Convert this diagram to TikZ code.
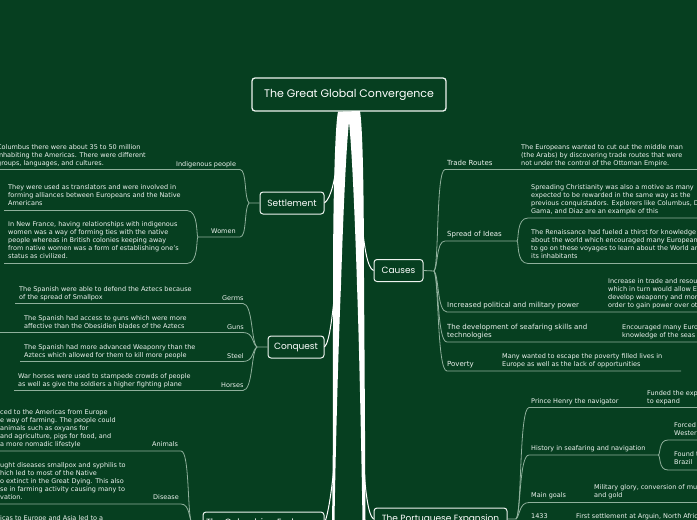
\documentclass[tikz,border=0pt]{standalone}
\usepackage{fontspec}
\setmainfont{DejaVu Sans}
\newfontfamily\handfont{Poppins}
\definecolor{board}{HTML}{063F20}
\definecolor{chalk}{HTML}{EDF3EF}
\definecolor{twig}{HTML}{8FB09C}
\tikzset{
  root/.style={draw=chalk,line width=1.3pt,rounded corners=3pt,text=white,font=\handfont\fontsize{11}{14}\selectfont,inner sep=0pt,minimum height=33pt},
  topic/.style={draw=chalk,line width=1pt,rounded corners=3pt,text=white,font=\handfont\fontsize{9}{11}\selectfont,inner sep=0pt,minimum height=22pt},
  leaf/.style={anchor=base west,align=left,inner sep=0pt,text=chalk,font=\fontsize{6.5}{8}\selectfont},
  bigleaf/.style={leaf,font=\fontsize{7}{8}\selectfont},
  twigline/.style={draw=twig,line width=0.8pt},
  bough/.style={draw=white,line width=1pt},
}
\begin{document}
\begin{tikzpicture}[x=1pt,y=-1pt]
        \useasboundingbox (0,0) rectangle (697,520);
        \fill[board] (0,0) rectangle (697,520);
        \clip (0,0) rectangle (697,520);

        % the two white trunks
        \node[root,minimum width=194pt] (great) at (349,94.5) {The Great Global Convergence};
        \fill[white] (great.south) ++(-11,0) .. controls (335,125) and (333,200) .. (333,285) .. controls (333,400) and (333,470) .. (332,520)
            -- (334.5,520) .. controls (336,430) and (339,330) .. (341,285) .. controls (343,220) and (346,150) .. (349,122)
            .. controls (352,150) and (355,220) .. (357,285) .. controls (359,340) and (361,430) .. (362.5,520)
            -- (365.5,520) .. controls (365,430) and (364.5,340) .. (364,285) .. controls (364,200) and (363,130) .. (360,111) -- cycle;

        \coordinate (trunkl1) at (337,160);
        \coordinate (trunkl2) at (336,280);
        \coordinate (trunkl3) at (334,465);
        \coordinate (trunkr1) at (361,215);
        \coordinate (trunkr2) at (363,455);

        \node[topic,minimum width=64pt] (settlement) at (292,203) {Settlement};
        \node[topic,minimum width=56pt] (conquest) at (296,347) {Conquest};
        \node[topic,minimum width=121pt] (columbian) at (263.5,523) {The Columbian Exchange};
        \node[topic,minimum width=49pt] (causes) at (398.5,270.5) {Causes};
        \node[topic,minimum width=133pt] (portuguese) at (440.5,519) {The Portuguese Expansion};

        \draw[bough] (settlement.east) .. controls (331,198) and (335,180) .. (trunkl1);
        \draw[bough] (conquest.east) .. controls (330,342) and (333,310) .. (trunkl2);
        \draw[bough] (columbian.east) .. controls (328,515) and (332,490) .. (trunkl3);
        \draw[bough] (causes.west) .. controls (367,268) and (364,245) .. (trunkr1);
        \draw[bough] (portuguese.west) .. controls (368,515) and (365,490) .. (trunkr2);

        % Settlement
        \node[leaf] (indigenous) at (176,166) {Indigenous people};
        \node[leaf] (indigenoustext) at (-3,165.5) {Columbus there were about 35 to 50 million\\inhabiting the Americas.  There were different\\groups, languages, and cultures.};
        \node[leaf] (women) at (211,233) {Women};
        \node[leaf] (womentext) at (8,205.5) {They were used as translators and were involved in\\forming alliances between Europeans and the Native\\Americans};
        \node[leaf] (francetext) at (8,258.5) {In New France, having relationships with indigenous\\women was a way of forming ties with the native\\people whereas in British colonies keeping away\\from native women was a form of establishing one's\\status as civilized.};
        \coordinate (settlejoin) at (249,203);
        \coordinate (indigenousend) at (0,169.5);
        \coordinate (womenend) at (198,237);
        \coordinate (womentextend) at (4,210.5);
        \coordinate (francetextend) at (4,263.5);
        \draw[twigline] (settlement.west) -- (settlejoin) .. controls (244,198) and (247,170) .. (240,169.5) -- (indigenousend);
        \draw[twigline] (settlejoin) .. controls (244,208) and (247,237) .. (240,237) -- (womenend);
        \draw[twigline] (womenend) .. controls (196,237) and (199,210.5) .. (187,210.5) -- (womentextend);
        \draw[twigline] (womenend) .. controls (196,237) and (199,263.5) .. (187,263.5) -- (francetextend);

        % Conquest
        \node[leaf] (germs) at (222,300) {Germs};
        \node[leaf] (germstext) at (19,299.5) {The Spanish were able to defend the Aztecs because\\of the spread of Smallpox};
        \node[leaf] (guns) at (227,329) {Guns};
        \node[leaf] (gunstext) at (24,328.5) {The Spanish had access to guns which were more\\affective than the Obesidien blades of the Aztecs};
        \node[leaf] (steel) at (227,358) {Steel};
        \node[leaf] (steeltext) at (24,357.5) {The Spanish had more advanced Weaponry than the\\Aztecs which allowed for them to kill more people};
        \node[leaf] (horses) at (221,387) {Horses};
        \node[leaf] (horsestext) at (18,386.5) {War horses were used to stampede crowds of people\\as well as give the soldiers a higher fighting plane};
        \coordinate (conquestjoin) at (257,347);
        \coordinate (germsend) at (15,303.5);
        \coordinate (gunsend) at (0,332.5);
        \coordinate (steelend) at (20,361.5);
        \coordinate (horsesend) at (14,390.5);
        \draw[twigline] (conquest.west) -- (conquestjoin) .. controls (251,342) and (253,304) .. (243,303.5) -- (germsend);
        \draw[twigline] (conquestjoin) .. controls (252,344) and (254,332.5) .. (243,332.5) -- (gunsend);
        \draw[twigline] (conquestjoin) .. controls (252,350) and (254,361.5) .. (243,361.5) -- (steelend);
        \draw[twigline] (conquestjoin) .. controls (251,352) and (253,390) .. (243,390.5) -- (horsesend);

        % The Columbian Exchange
        \node[leaf] (animals) at (152,446.5) {Animals};
        \node[leaf] (animalstext) at (0,446.5) {ced to the Americas from Europe\\e way of farming. The people could\\animals such as oxyans for\\and agriculture, pigs for food, and\\a more nomadic lifestyle};
        \node[leaf] (disease) at (153,499.5) {Disease};
        \node[leaf] (diseasetext) at (0,499.5) {ught diseases smallpox and syphilis to\\hich led to most of the Native\\o extinct in the Great Dying. This also\\se in farming activity causing many to\\vation.};
        \node[leaf] (exchangetext) at (0,520) {icas to Europe and Asia led to a};
        \coordinate (columbianjoin) at (192,523);
        \coordinate (animalsend) at (0,451);
        \coordinate (diseaseend) at (0,504);
        \draw[twigline] (columbian.west) -- (columbianjoin) .. controls (187,518) and (190,451) .. (181,451) -- (animalsend);
        \draw[twigline] (columbianjoin) .. controls (189,520) and (190,504) .. (181,504) -- (diseaseend);

        % Causes
        \node[bigleaf] (trade) at (447,165.5) {Trade Routes};
        \node[leaf] (tradetext) at (521,165.5) {The Europeans wanted to cut out the middle man\\(the Arabs) by discovering trade routes that were\\not under the control of the Ottoman Empire.};
        \node[bigleaf] (ideas) at (447,236.5) {Spread of Ideas};
        \node[leaf] (ideastext) at (531,213.5) {Spreading Christianity was also a motive as many\\expected to be rewarded in the same way as the\\previous conquistadors. Explorers like Columbus, Da\\Gama, and Diaz are an example of this};
        \node[leaf] (renaissancetext) at (531,258.5) {The Renaissance had fueled a thirst for knowledge\\about the world which encouraged many Europeans\\to go on these voyages to learn about the World and\\its inhabitants};
        \node[bigleaf] (power) at (447,307.5) {Increased political and military power};
        \node[leaf] (powertext) at (608,307.5) {Increase in trade and resources\\which in turn would allow Europeans to\\develop weaponry and more ships in\\order to gain power over others};
        \node[bigleaf] (seafaring) at (447,337.5) {The development of seafaring skills and\\technologies};
        \node[leaf] (seafaringtext) at (622,337.5) {Encouraged many Europeans\\knowledge of the seas};
        \node[bigleaf] (poverty) at (447,366.5) {Poverty};
        \node[leaf] (povertytext) at (502,366.5) {Many wanted to escape the poverty filled lives in\\Europe as well as the lack of opportunities};
        \coordinate (causesjoin) at (434,271);
        \coordinate (tradeend) at (697,169.5);
        \coordinate (ideasjoin) at (517,241);
        \coordinate (ideastextend) at (697,218);
        \coordinate (renaissanceend) at (697,263.5);
        \coordinate (powerend) at (697,312);
        \coordinate (seafaringend) at (697,342);
        \coordinate (povertyend) at (681,371);
        \draw[twigline] (causes.east) -- (causesjoin) .. controls (439,266) and (436,170) .. (445,169.5) -- (tradeend);
        \draw[twigline] (causesjoin) .. controls (438,268) and (436,241) .. (445,241) -- (ideasjoin);
        \draw[twigline] (causesjoin) .. controls (439,275) and (437,312) .. (447,312) -- (powerend);
        \draw[twigline] (causesjoin) .. controls (439,278) and (437,342) .. (447,342) -- (seafaringend);
        \draw[twigline] (causesjoin) .. controls (439,280) and (437,371) .. (447,371) -- (povertyend);
        \draw[twigline] (ideasjoin) .. controls (519,241) and (516,218) .. (528,218) -- (ideastextend);
        \draw[twigline] (ideasjoin) .. controls (519,241) and (516,263.5) .. (528,263.5) -- (renaissanceend);

        % The Portuguese Expansion
        \node[leaf] (henry) at (531,403.5) {Prince Henry the navigator};
        \node[leaf] (henrytext) at (647,403.5) {Funded the exploration\\to expand};
        \node[leaf] (history) at (531,450.5) {History in seafaring and navigation};
        \node[leaf] (forcedtext) at (674,435.5) {Forced to\\Western};
        \node[leaf] (foundtext) at (674,464.5) {Found the\\Brazil};
        \node[leaf] (goals) at (531,497.5) {Main goals};
        \node[leaf] (goalstext) at (594,497.5) {Military glory, conversion of muslims\\and gold};
        \node[leaf] (arguin) at (531,518.5) {1433};
        \node[leaf] (arguintext) at (576,518.5) {First settlement at Arguin, North Africa};
        \coordinate (portuguesejoin) at (516,519);
        \coordinate (henryend) at (697,407.5);
        \coordinate (historyjoin) at (658,455);
        \coordinate (forcedend) at (697,440);
        \coordinate (foundend) at (697,470);
        \coordinate (goalsend) at (697,502.5);
        \draw[twigline] (portuguese.east) -- (portuguesejoin) .. controls (522,514) and (519,408) .. (529,407.5) -- (henryend);
        \draw[twigline] (portuguesejoin) .. controls (521,514) and (519,455) .. (529,455) -- (historyjoin);
        \draw[twigline] (portuguesejoin) .. controls (520,516) and (519,502.5) .. (529,502.5) -- (goalsend);
        \draw[twigline] (historyjoin) .. controls (661,455) and (658,440) .. (668,440) -- (forcedend);
        \draw[twigline] (historyjoin) .. controls (661,455) and (658,470) .. (668,470) -- (foundend);
    \end{tikzpicture}
\end{document}
